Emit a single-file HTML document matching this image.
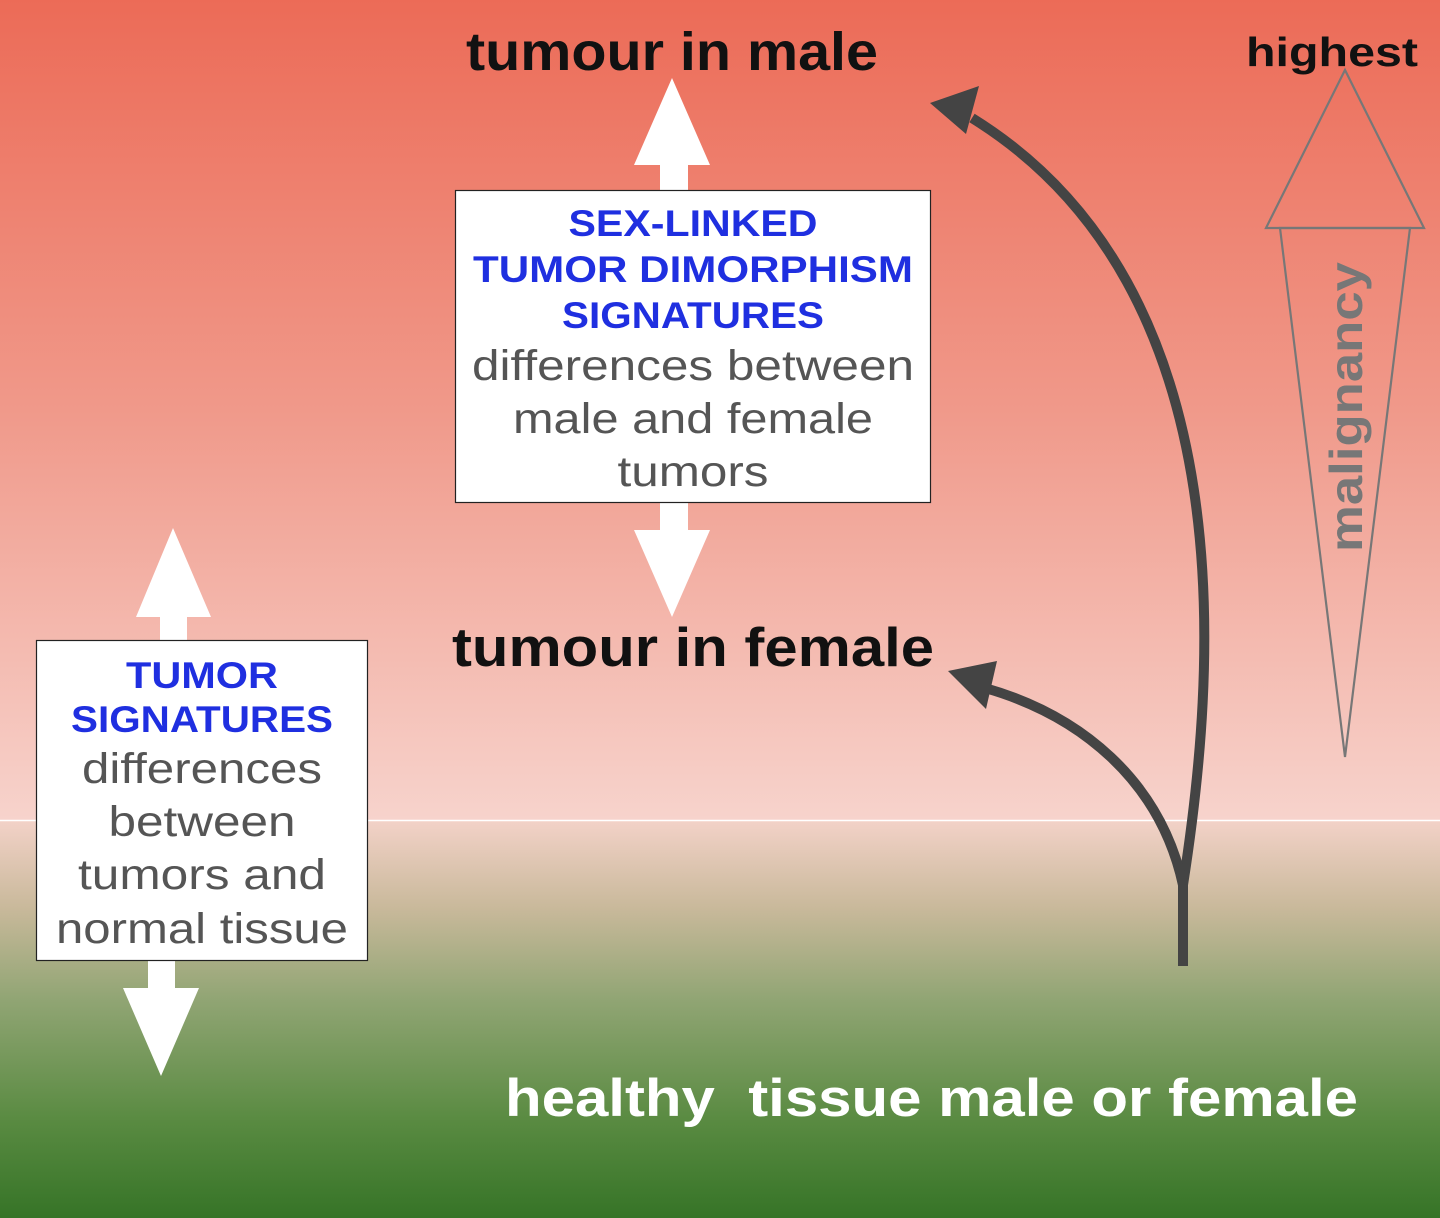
<!DOCTYPE html>
<html><head><meta charset="utf-8"><style>
html,body{margin:0;padding:0;width:1440px;height:1218px;overflow:hidden}
svg{display:block}
text{font-family:"Liberation Sans",sans-serif}
</style></head><body>
<svg width="1440" height="1218" viewBox="0 0 1440 1218" xmlns="http://www.w3.org/2000/svg">
<defs>
<linearGradient id="top" x1="0" y1="0" x2="0" y2="1">
<stop offset="0" stop-color="#ec6b57"/>
<stop offset="0.5" stop-color="#f0998a"/>
<stop offset="1" stop-color="#f7d3cc"/>
</linearGradient>
<linearGradient id="bot" x1="0" y1="0" x2="0" y2="1">
<stop offset="0" stop-color="#f3d2c8"/>
<stop offset="0.22" stop-color="#c9b99b"/>
<stop offset="0.45" stop-color="#91a574"/>
<stop offset="0.75" stop-color="#5a8b42"/>
<stop offset="1" stop-color="#367427"/>
</linearGradient>
</defs>
<rect x="0" y="0" width="1440" height="820" fill="url(#top)"/>
<rect x="0" y="820" width="1440" height="398" fill="url(#bot)"/>
<line x1="0" y1="820.5" x2="1440" y2="820.5" stroke="#fff" stroke-width="1.5"/>

<g fill="#fff">
<polygon points="672,78 710,165 688,165 688,192 660,192 660,165 634,165"/>
<polygon points="660,502 688,502 688,530 710,530 672,617 634,530 660,530"/>
<polygon points="173,528 211,617 187,617 187,641 160,641 160,617 136,617"/>
<polygon points="148,959 175,959 175,988 199,988 161,1076 123,988 148,988"/>
</g>

<rect x="455.5" y="190.5" width="475" height="312" fill="#fff" stroke="#222" stroke-width="1.2"/>
<rect x="36.5" y="640.5" width="331" height="320" fill="#fff" stroke="#222" stroke-width="1.2"/>

<g font-weight="bold" fill="#1f2fe0" text-anchor="middle" font-size="37" lengthAdjust="spacingAndGlyphs">
<text x="693" y="236" textLength="249" lengthAdjust="spacingAndGlyphs">SEX-LINKED</text>
<text x="693" y="282" textLength="440" lengthAdjust="spacingAndGlyphs">TUMOR DIMORPHISM</text>
<text x="693" y="328" textLength="262" lengthAdjust="spacingAndGlyphs">SIGNATURES</text>
<text x="202" y="688" textLength="152" lengthAdjust="spacingAndGlyphs">TUMOR</text>
<text x="202" y="732" textLength="262" lengthAdjust="spacingAndGlyphs">SIGNATURES</text>
</g>
<g fill="#555" text-anchor="middle" font-size="43">
<text x="693" y="380" textLength="442" lengthAdjust="spacingAndGlyphs">differences between</text>
<text x="693" y="433" textLength="360" lengthAdjust="spacingAndGlyphs">male and female</text>
<text x="693" y="486" textLength="151" lengthAdjust="spacingAndGlyphs">tumors</text>
<text x="202" y="783" textLength="240" lengthAdjust="spacingAndGlyphs">differences</text>
<text x="202" y="836" textLength="187" lengthAdjust="spacingAndGlyphs">between</text>
<text x="202" y="889" textLength="248" lengthAdjust="spacingAndGlyphs">tumors and</text>
<text x="202" y="943" textLength="292" lengthAdjust="spacingAndGlyphs">normal tissue</text>
</g>

<g font-weight="bold" fill="#111">
<text x="466" y="70" font-size="54" textLength="412" lengthAdjust="spacingAndGlyphs">tumour in male</text>
<text x="452" y="666" font-size="55" textLength="482" lengthAdjust="spacingAndGlyphs">tumour in female</text>
<text x="1246" y="66" font-size="41" textLength="172" lengthAdjust="spacingAndGlyphs">highest</text>
</g>
<text x="505" y="1116" font-size="53" font-weight="bold" fill="#fff" textLength="853" lengthAdjust="spacingAndGlyphs" xml:space="preserve">healthy  tissue male or female</text>

<g stroke="#444" stroke-width="10" fill="none">
<path d="M1183 966 L1183 885 C1215 680, 1250 290, 972 118"/>
<path d="M1183 885 C1160 780, 1080 715, 985 688"/>
</g>
<g fill="#444">
<polygon points="930,103 979,86 966,134"/>
<polygon points="948,671 997,661 986,709"/>
</g>

<g stroke="#777" stroke-width="2.2" fill="none">
<polygon points="1345,70 1266,228 1424,228"/>
<polygon points="1280,228 1410,228 1345,757"/>
</g>
<text transform="translate(1362,407) rotate(-90)" text-anchor="middle" font-size="46" font-weight="bold" fill="#777" textLength="290" lengthAdjust="spacingAndGlyphs">malignancy</text>
</svg>
</body></html>
